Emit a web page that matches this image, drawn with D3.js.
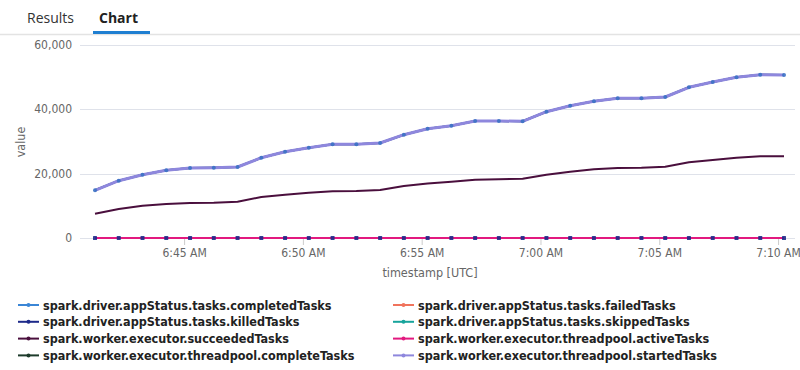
<!DOCTYPE html>
<html>
<head>
<meta charset="utf-8">
<script src="https://cdn.jsdelivr.net/npm/d3@7"></script>
<style>
  body { margin: 0; background: #fff; }
  svg { display: block; }
</style>
</head>
<body>
<script>
const width = 800, height = 370;

// one sample per minute, UTC
const times = ["06:41:15","06:42:15","06:43:15","06:44:15","06:45:15","06:46:15","06:47:15","06:48:15","06:49:15","06:50:15",
               "06:51:15","06:52:15","06:53:15","06:54:15","06:55:15","06:56:15","06:57:15","06:58:15","06:59:15","07:00:15",
               "07:01:15","07:02:15","07:03:15","07:04:15","07:05:15","07:06:15","07:07:15","07:08:15","07:09:15","07:10:15"];

const startedTasks = [14830,17815,19680,21050,21760,21860,22070,24965,26830,28070,
                      29130,29130,29535,32115,33950,34910,36375,36375,36280,39265,
                      41130,42500,43430,43430,43835,46850,48500,49960,50770,50680];
const completedTasks = startedTasks.slice();
const completeTasks = startedTasks.slice();
const succeededTasks = [7555,9016,10042,10570,10881,10975,11286,12747,13462,14084,
                        14519,14612,14923,16167,16950,17503,18125,18250,18436,19680,
                        20613,21360,21763,21857,22168,23536,24251,24966,25401,25401];
const zeros = [0,0,0,0,0,0,0,0,0,0,0,0,0,0,0,0,0,0,0,0,0,0,0,0,0,0,0,0,0,0];
const failedTasks = zeros, killedTasks = zeros, skippedTasks = zeros, activeTasks = zeros;

const seriesNames = [
  "spark.driver.appStatus.tasks.completedTasks",
  "spark.driver.appStatus.tasks.failedTasks",
  "spark.driver.appStatus.tasks.killedTasks",
  "spark.driver.appStatus.tasks.skippedTasks",
  "spark.worker.executor.succeededTasks",
  "spark.worker.executor.threadpool.activeTasks",
  "spark.worker.executor.threadpool.completeTasks",
  "spark.worker.executor.threadpool.startedTasks"
];
const seriesValues = [completedTasks, failedTasks, killedTasks, skippedTasks, succeededTasks, activeTasks, completeTasks, startedTasks];
const seriesColors = ["#3a86d6","#f0735c","#1d2a8a","#17a49c","#4a0f3d","#e2197f","#1d3b2b","#8e87dd"];
const lineWidths = [2, 2, 2, 2, 2, 2, 2, 3];
const showMarkers = [true, false, true, false, false, false, false, false];

const yTicks = [0, 20000, 40000, 60000];

const parseT = d3.utcParse("%Y-%m-%d %H:%M:%S");
const dates = times.map(t => parseT("2021-01-01 " + t));

const svg = d3.select("body").append("svg")
  .attr("width", width)
  .attr("height", height)
  .style("font-family", "'DejaVu Sans Condensed', 'DejaVu Sans', sans-serif");

const x = d3.scaleUtc().domain(d3.extent(dates)).range([95, 784]);
const y = d3.scaleLinear().domain([0, 60000]).range([238, 45]);
const plotLeft = 80, plotRight = 795;

// tabs
svg.append("line").attr("x1", 0).attr("x2", width).attr("y1", 34.5).attr("y2", 34.5)
  .attr("stroke", "#e3e3e3").attr("stroke-width", 1.5);
svg.append("text").attr("x", 27).attr("y", 23).text("Results")
  .style("font-family", "'Open Sans', sans-serif").style("font-size", "14px").attr("fill", "#333");
svg.append("text").attr("x", 99).attr("y", 23).text("Chart")
  .style("font-family", "'Open Sans', sans-serif").style("font-size", "14px").style("font-weight", "bold").attr("fill", "#222");
svg.append("line").attr("x1", 93).attr("x2", 150).attr("y1", 32.5).attr("y2", 32.5)
  .attr("stroke", "#1f7fd1").attr("stroke-width", 3);

// grid + y labels
svg.append("g").selectAll("line").data(yTicks).enter().append("line")
  .attr("x1", plotLeft).attr("x2", plotRight)
  .attr("y1", d => Math.round(y(d)) + 0.5).attr("y2", d => Math.round(y(d)) + 0.5)
  .attr("stroke", "#dfe2ea").attr("stroke-width", 1);
svg.append("g").selectAll("text").data(yTicks).enter().append("text")
  .attr("x", 72).attr("y", d => y(d) + 4)
  .attr("text-anchor", "end").attr("fill", "#666").style("font-size", "12px")
  .text(d => d3.format(",")(d));

svg.append("text").attr("transform", "translate(25,142) rotate(-90)")
  .attr("text-anchor", "middle").attr("fill", "#666").style("font-size", "12.5px").text("value");

// x axis
const xAxis = d3.axisBottom(x).ticks(d3.utcMinute.every(5)).tickFormat(d3.utcFormat("%-I:%M %p")).tickSize(7).tickPadding(3);
const gx = svg.append("g").attr("transform", "translate(0,238)").call(xAxis);
gx.select(".domain").remove();
gx.selectAll(".tick line").attr("stroke", "#ccc");
gx.selectAll(".tick text").attr("fill", "#666").style("font-size", "12px")
  .style("font-family", "'DejaVu Sans Condensed', 'DejaVu Sans', sans-serif");

svg.append("text").attr("x", 430).attr("y", 277).attr("text-anchor", "middle")
  .attr("fill", "#666").style("font-size", "12.5px").text("timestamp [UTC]");

// lines
const line = d3.line().x((d, i) => x(dates[i])).y(d => y(d));
seriesValues.forEach((vals, s) => {
  svg.append("path").datum(vals)
    .attr("fill", "none")
    .attr("stroke", seriesColors[s])
    .attr("stroke-width", lineWidths[s])
    .attr("stroke-linejoin", "round")
    .attr("d", line);
});

// markers on top
seriesValues.forEach((vals, s) => {
  if (!showMarkers[s]) return;
  svg.append("g").selectAll("rect").data(vals).enter().append("rect")
    .attr("x", (d, i) => x(dates[i]) - 2)
    .attr("y", d => y(d) - 2)
    .attr("width", 4).attr("height", 4).attr("rx", s === 0 ? 2 : 0.5)
    .attr("fill", s === 0 ? "#3b72c4" : seriesColors[s])
    .attr("opacity", 0.9);
});

// legend
const legend = svg.append("g");
seriesNames.forEach((name, i) => {
  const col = i % 2, row = Math.floor(i / 2);
  const lx = col === 0 ? 18 : 393, ly = 305 + row * 16.8;
  const g = legend.append("g").attr("transform", `translate(${lx},${ly})`);
  g.append("line").attr("x1", 0).attr("x2", 21).attr("y1", 0).attr("y2", 0)
    .attr("stroke", seriesColors[i]).attr("stroke-width", 2);
  g.append("circle").attr("cx", 10.5).attr("cy", 0).attr("r", 2).attr("fill", seriesColors[i]);
  g.append("text").attr("x", 25).attr("y", 4.5).text(name)
    .attr("fill", "#222").style("font-size", "12.5px").style("font-weight", "bold");
});
</script>
</body>
</html>
